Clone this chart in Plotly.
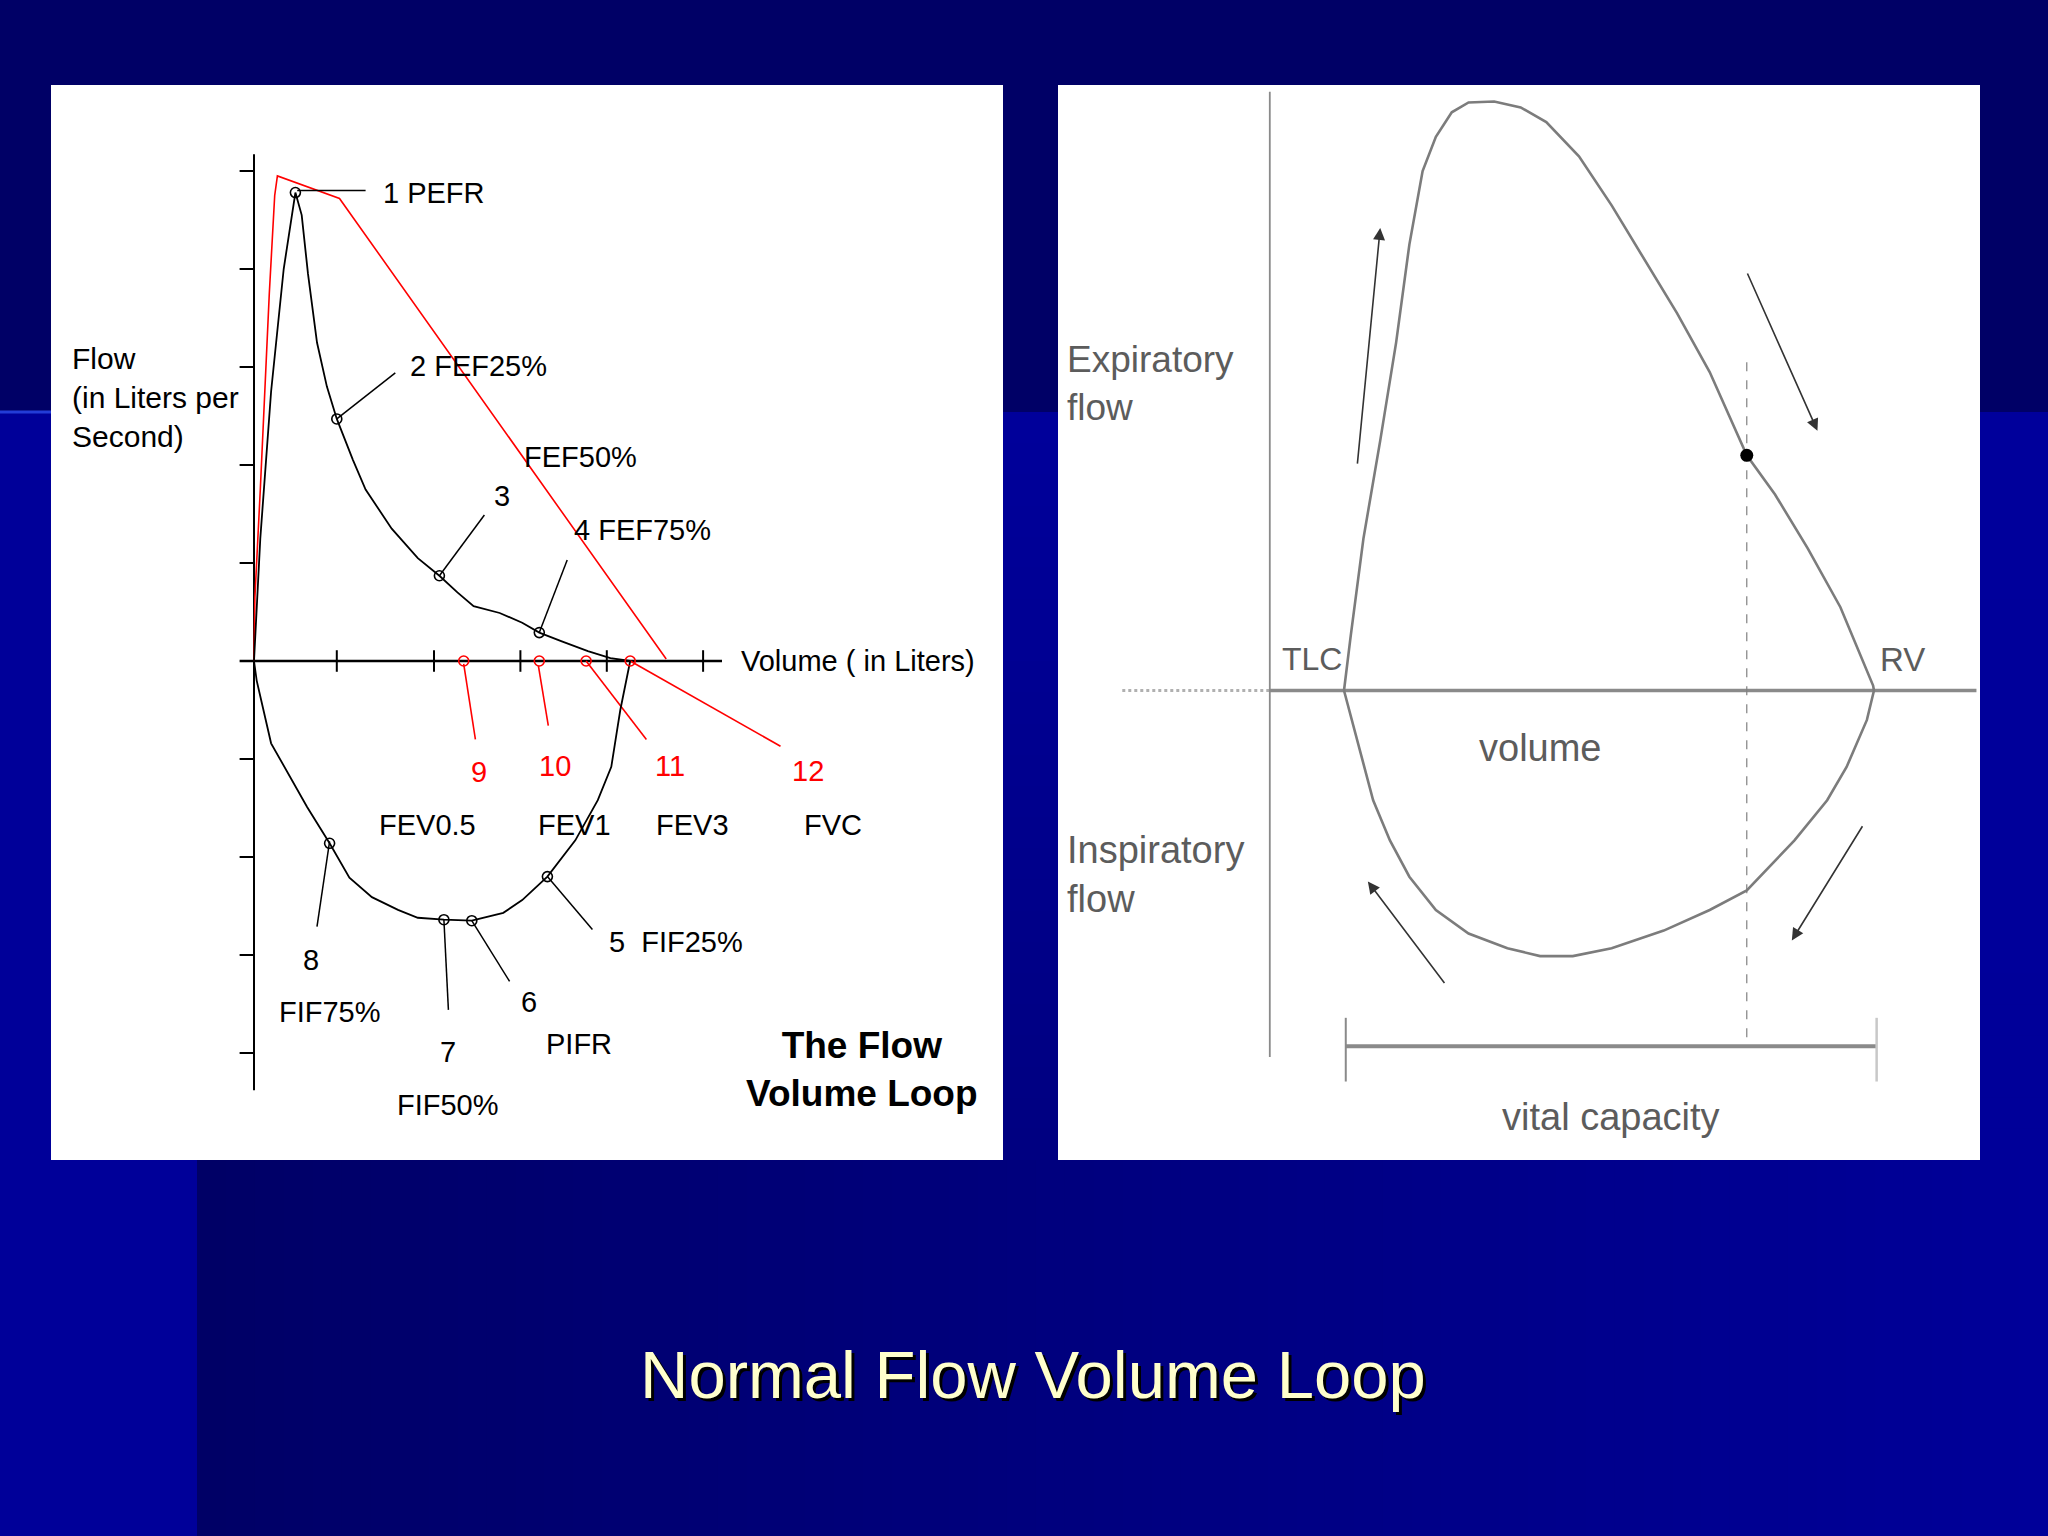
import plotly.graph_objects as go

# ---------------- LEFT DIAGRAM DATA (volume in L, flow in L/s) ----------------
exp_vol  = [0, 0.07, 0.19, 0.33, 0.46, 0.53, 0.60, 0.70, 0.81, 0.92, 1.10, 1.24, 1.53, 1.82,
            2.06, 2.26, 2.44, 2.73, 2.98, 3.17, 3.42, 3.71, 3.96, 4.18]
exp_flow = [0, 1.25, 2.75, 4.00, 4.78, 4.55, 3.95, 3.25, 2.80, 2.47, 2.05, 1.75, 1.35, 1.05,
            0.87, 0.70, 0.56, 0.49, 0.39, 0.29, 0.20, 0.10, 0.03, 0.0]
insp_vol  = [4.18, 4.07, 4.03, 3.97, 3.82, 3.57, 3.26, 2.98, 2.77, 2.42, 2.11, 1.82, 1.60,
             1.31, 1.06, 0.84, 0.59, 0.37, 0.19, 0.08, 0.03, 0]
insp_flow = [0, -0.50, -0.73, -1.08, -1.42, -1.83, -2.20, -2.44, -2.57, -2.65, -2.64, -2.62,
             -2.54, -2.41, -2.21, -1.86, -1.49, -1.14, -0.84, -0.40, -0.20, 0]
env_vol  = [0, 0.01, 0.07, 0.12, 0.17, 0.23, 0.26, 0.95, 4.58]
env_flow = [0, 0.65, 1.75, 2.75, 3.75, 4.75, 4.95, 4.72, 0.02]

pt_vol  = [0.46, 0.92, 2.06, 3.17, 3.26, 2.42, 2.11, 0.84]
pt_flow = [4.78, 2.47, 0.87, 0.29, -2.20, -2.65, -2.64, -1.86]
red_pt_vol = [2.33, 3.17, 3.69, 4.18]

ytick_flow = [5, 4, 3, 2, 1, -1, -2, -3, -4]
xtick_vol = [0.92, 2.0, 2.96, 3.92, 4.99]
x_axis_span = [-0.16, 5.2]
y_axis_span = [-4.38, 5.17]

# leader lines: (x0, y0, x1, y1)
black_leaders = [(0.48, 4.8, 1.24, 4.8), (0.92, 2.47, 1.57, 2.94), (2.06, 0.87, 2.56, 1.49),
                 (3.17, 0.29, 3.48, 1.03), (3.26, -2.20, 3.76, -2.74), (2.42, -2.65, 2.84, -3.27),
                 (2.11, -2.64, 2.16, -3.56), (0.84, -1.84, 0.70, -2.71)]
red_leaders = [(2.33, -0.03, 2.46, -0.80), (3.16, -0.05, 3.27, -0.66),
               (3.69, 0.0, 4.36, -0.80), (4.18, 0.0, 5.85, -0.87)]

# labels: (text, x, y, xanchor)
black_labels = [("1 PEFR", 1.41, 4.78, "left"), ("2 FEF25%", 1.71, 3.01, "left"),
                ("FEF50%", 2.98, 2.08, "left"), ("3", 2.75, 1.68, "center"),
                ("4 FEF75%", 3.53, 1.34, "left"), ("Volume ( in Liters)", 5.39, 0.0, "left"),
                ("FEV0.5", 1.93, -1.67, "center"), ("FEV1", 3.56, -1.67, "center"),
                ("FEV3", 4.87, -1.67, "center"), ("FVC", 6.43, -1.67, "center"),
                ("5  FIF25%", 3.92, -2.87, "left"), ("8", 0.63, -3.05, "center"),
                ("FIF75%", 0.84, -3.58, "center"), ("6", 3.06, -3.48, "center"),
                ("PIFR", 3.61, -3.91, "center"), ("7", 2.16, -3.99, "center"),
                ("FIF50%", 2.15, -4.53, "center")]
red_labels = [("9", 2.50, -1.13), ("10", 3.34, -1.07), ("11", 4.62, -1.07), ("12", 6.15, -1.12)]
flow_label = ("Flow<br>(in Liters per<br>Second)", -2.04, 2.69)
left_title = ("The Flow<br>Volume Loop", 6.75, -4.17)

# ---------------- RIGHT DIAGRAM DATA ----------------
loop_vol = [0, 0.075, 0.22, 0.41, 0.59, 0.74, 0.89, 1.04, 1.22, 1.41, 1.70, 2.0, 2.29, 2.66,
            3.03, 3.40, 3.77, 4.14, 4.56, 4.88, 5.25, 5.62, 5.99, 6.0,
            5.92, 5.69, 5.47, 5.10, 4.56, 4.14, 3.62, 3.03, 2.59, 2.22, 1.85, 1.41, 1.04,
            0.74, 0.52, 0.33, 0.19, 0.075, 0]
loop_flow = [0, 0.55, 1.55, 2.55, 3.55, 4.55, 5.30, 5.65, 5.90, 6.0, 6.01, 5.95, 5.80, 5.45,
             4.95, 4.40, 3.85, 3.25, 2.40, 2.0, 1.45, 0.85, 0.05, 0,
             -0.30, -0.78, -1.12, -1.53, -2.04, -2.24, -2.45, -2.63, -2.71, -2.71, -2.63,
             -2.48, -2.24, -1.90, -1.53, -1.12, -0.64, -0.27, 0]
dot_point = (4.56, 2.40)
dotted_line = (4.56, 3.35, -3.62)
r_x_axis = [-0.84, 7.16]
r_x_axis_dotted = [-2.51, -0.84]
r_y_axis = (-0.84, 6.11, -3.74)
vc_bar = (0.02, 6.03, -3.63)
vc_tick_span = [-3.34, -3.99]
# arrows: (tail_x, tail_y, head_x, head_y)
arrows = [(0.15, 2.30, 0.41, 4.72), (4.56, 4.27, 5.36, 2.65),
          (5.88, -1.37, 5.07, -2.55), (1.15, -3.0, 0.27, -1.95)]
# (text, x, y, xanchor, size)
right_labels = [("Expiratory<br>flow", -3.16, 3.13, "left", 37), ("Inspiratory<br>flow", -3.16, -1.88, "left", 38),
                ("TLC", -0.36, 0.32, "center", 32), ("RV", 6.32, 0.32, "center", 33),
                ("volume", 2.22, -0.59, "center", 38), ("vital capacity", 3.02, -4.35, "center", 38)]

slide_title = "Normal Flow Volume Loop"

# ---------------- FIGURE ----------------
W, H = 2048, 1536
FONT = "Liberation Sans, Arial, sans-serif"

fig = go.Figure()

def seg_trace(segs, color, width, xa="x", ya="y", dash=None):
    xs, ys = [], []
    for x0, y0, x1, y1 in segs:
        xs += [x0, x1, None]
        ys += [y0, y1, None]
    fig.add_trace(go.Scatter(x=xs, y=ys, mode="lines", xaxis=xa, yaxis=ya,
                             line=dict(color=color, width=width, dash=dash),
                             hoverinfo="skip", showlegend=False))

# left axes
seg_trace([(x_axis_span[0], 0, x_axis_span[1], 0)], "black", 2.5)
seg_trace([(0, y_axis_span[0], 0, y_axis_span[1])], "black", 2)
seg_trace([(-0.16, v, 0, v) for v in ytick_flow], "black", 2)
seg_trace([(v, -0.11, v, 0.11) for v in xtick_vol], "black", 2)

# envelope (red)
fig.add_trace(go.Scatter(x=env_vol, y=env_flow, mode="lines", line=dict(color="#ff0000", width=1.6),
                         hoverinfo="skip", showlegend=False))
seg_trace(red_leaders, "#ff0000", 1.6)
# loop (black)
fig.add_trace(go.Scatter(x=exp_vol, y=exp_flow, mode="lines", line=dict(color="black", width=1.8),
                         hoverinfo="skip", showlegend=False))
fig.add_trace(go.Scatter(x=insp_vol, y=insp_flow, mode="lines", line=dict(color="black", width=1.8),
                         hoverinfo="skip", showlegend=False))
seg_trace(black_leaders, "black", 1.5)
fig.add_trace(go.Scatter(x=pt_vol, y=pt_flow, mode="markers",
                         marker=dict(symbol="circle-open", size=10, color="black", line=dict(width=1.6)),
                         hoverinfo="skip", showlegend=False))
fig.add_trace(go.Scatter(x=red_pt_vol, y=[0] * len(red_pt_vol), mode="markers",
                         marker=dict(symbol="circle-open", size=10, color="#ff0000", line=dict(width=1.6)),
                         hoverinfo="skip", showlegend=False))

# right diagram
seg_trace([(r_x_axis_dotted[0], 0, r_x_axis_dotted[1], 0)], "#b0b0b0", 3, "x2", "y2", "dot")
seg_trace([(r_x_axis[0], 0, r_x_axis[1], 0)], "#8a8a8a", 3.5, "x2", "y2")
seg_trace([(r_y_axis[0], r_y_axis[1], r_y_axis[0], r_y_axis[2])], "#8a8a8a", 1.8, "x2", "y2")
seg_trace([(dotted_line[0], dotted_line[1], dotted_line[0], dotted_line[2])], "#808080", 1.2, "x2", "y2", "dash")
seg_trace([(vc_bar[0], vc_bar[2], vc_bar[1], vc_bar[2])], "#8a8a8a", 4, "x2", "y2")
seg_trace([(vc_bar[0], vc_tick_span[0], vc_bar[0], vc_tick_span[1])], "#8a8a8a", 2, "x2", "y2")
seg_trace([(vc_bar[1], vc_tick_span[0], vc_bar[1], vc_tick_span[1])], "#c8c8c8", 2.5, "x2", "y2")
fig.add_trace(go.Scatter(x=loop_vol, y=loop_flow, mode="lines", xaxis="x2", yaxis="y2",
                         line=dict(color="#7c7c7c", width=2.6), hoverinfo="skip", showlegend=False))
fig.add_trace(go.Scatter(x=[dot_point[0]], y=[dot_point[1]], mode="markers", xaxis="x2", yaxis="y2",
                         marker=dict(symbol="circle", size=13, color="black"),
                         hoverinfo="skip", showlegend=False))

annotations = []
def label(text, x, y, xanchor="center", color="black", size=29, family=FONT, xref="x", yref="y",
          weight="normal", align="center", shadow=None):
    f = dict(family=family, size=size, color=color, weight=weight)
    if shadow:
        f["shadow"] = shadow
    annotations.append(dict(text=text, x=x, y=y, xref=xref, yref=yref, xanchor=xanchor,
                            yanchor="middle", showarrow=False, align=align, font=f))

for t, x, y, xa in black_labels:
    label(t, x, y, xa)
for t, x, y in red_labels:
    label(t, x, y, "center", color="#ff0000")
label(flow_label[0], flow_label[1], flow_label[2], "left", align="left", size=30)
label(left_title[0], left_title[1], left_title[2], "center", size=37, weight="bold")

for t, x, y, xa, s in right_labels:
    label(t, x, y, xa, color="#5c5c5c", size=s, xref="x2", yref="y2",
          align="left" if xa == "left" else "center")

for tx, ty, hx, hy in arrows:
    annotations.append(dict(x=hx, y=hy, ax=tx, ay=ty, xref="x2", yref="y2", axref="x2", ayref="y2",
                            text="", showarrow=True, arrowhead=2, arrowsize=1.5, arrowwidth=1.6,
                            arrowcolor="#333333", standoff=0, startstandoff=0))

label(slide_title, 1033 / W, 1 - 1374 / H, "center", color="#ffffcc", size=67,
      xref="paper", yref="paper", shadow="3px 3px 0px #000000")

# background shapes
shapes = []
band_y = 1 - 412 / H
shapes.append(dict(type="rect", xref="paper", yref="paper", x0=0, x1=1, y0=band_y, y1=1,
                   fillcolor="#000066", line=dict(width=0), layer="below"))
shapes.append(dict(type="rect", xref="paper", yref="paper", x0=0, x1=197 / W, y0=0, y1=band_y,
                   fillcolor="#000099", line=dict(width=0), layer="below"))
n = 64
x_start = 197
for i in range(n):
    x0 = x_start + (W - x_start) * i / n
    x1 = x_start + (W - x_start) * (i + 1) / n + 1
    t = (i + 0.5) / n
    b = int(round(102 + (153 - 102) * t))
    shapes.append(dict(type="rect", xref="paper", yref="paper", x0=x0 / W, x1=min(x1, W) / W,
                       y0=0, y1=band_y, fillcolor=f"rgb(0,0,{b})", line=dict(width=0), layer="below"))
# brighter vertical blend in the gaps between / beside the panels
m = 24
for gx0, gx1, b_bot in [(1003, 1058, 128), (1980, 2048, 153)]:
    for j in range(m):
        py0 = 412 + (1160 - 412) * j / m
        py1 = 412 + (1160 - 412) * (j + 1) / m + 1
        t = (j + 0.5) / m
        b = int(round(155 + (b_bot - 155) * t))
        shapes.append(dict(type="rect", xref="paper", yref="paper", x0=gx0 / W, x1=gx1 / W,
                           y0=1 - min(py1, 1160) / H, y1=1 - py0 / H, fillcolor=f"rgb(0,0,{b})",
                           line=dict(width=0), layer="below"))
shapes.append(dict(type="line", xref="paper", yref="paper", x0=0, x1=51 / W, y0=band_y, y1=band_y,
                   line=dict(color="rgb(35,60,215)", width=3), layer="below"))
# white panels
for px0, px1 in [(51, 1003), (1058, 1980)]:
    shapes.append(dict(type="rect", xref="paper", yref="paper", x0=px0 / W, x1=px1 / W,
                       y0=1 - 1160 / H, y1=1 - 85 / H, fillcolor="white",
                       line=dict(width=0), layer="below"))

# axis geometry (pixel panel bounds -> data ranges)
L_px = (51, 1003); R_px = (1058, 1980); top_px, bot_px = 85, 1160
lx0, lsx, ly0, lsy = 254, 90.0, 661, 98.0
rx0, rsx, ry0, rsy = 1344, 88.33, 690.5, 98.0

ax_common = dict(visible=False, showgrid=False, zeroline=False, fixedrange=True)
fig.update_layout(
    width=W, height=H, margin=dict(l=0, r=0, t=0, b=0),
    paper_bgcolor="#000080", plot_bgcolor="rgba(0,0,0,0)",
    showlegend=False,
    xaxis=dict(domain=[L_px[0] / W, L_px[1] / W],
               range=[(L_px[0] - lx0) / lsx, (L_px[1] - lx0) / lsx], **ax_common),
    yaxis=dict(domain=[1 - bot_px / H, 1 - top_px / H],
               range=[(ly0 - bot_px) / lsy, (ly0 - top_px) / lsy], **ax_common),
    xaxis2=dict(domain=[R_px[0] / W, R_px[1] / W], anchor="y2",
                range=[(R_px[0] - rx0) / rsx, (R_px[1] - rx0) / rsx], **ax_common),
    yaxis2=dict(domain=[1 - bot_px / H, 1 - top_px / H], anchor="x2",
                range=[(ry0 - bot_px) / rsy, (ry0 - top_px) / rsy], **ax_common),
    shapes=shapes, annotations=annotations,
)

fig.write_html("out.html", config={"displayModeBar": False},
               post_script="document.body.style.margin='0';document.body.style.overflow='hidden';")
